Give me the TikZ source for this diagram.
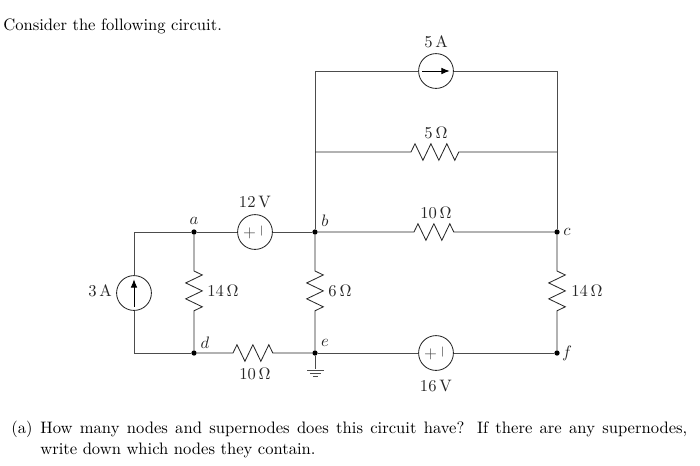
\documentclass[tikz,border=0pt]{standalone}
\usetikzlibrary{arrows.meta,decorations.pathmorphing}
\usepackage{amsmath,amssymb}
\usepackage{xcolor}

\begin{document}
\begin{tikzpicture}[x=0.603pt,y=-0.603pt,
	wire/.style={draw=black!70,line width=0.5pt},
	res/.style={draw=black!85,line width=0.5pt,decorate,decoration={zigzag,segment length=9.6pt,amplitude=5pt,pre length=#1*0.603pt,post length=#1*0.603pt}},
	junc/.style={circle,fill=black,inner sep=0pt,minimum size=3.2pt},
	src/.style={circle,draw=black!85,line width=0.5pt,inner sep=0pt,minimum size=21pt},
	cur/.style={-{Latex[length=5pt,width=4pt]},line width=0.5pt,shorten >=2.5pt,shorten <=2.5pt},
	val/.style={inner sep=0pt,text=black!85}]
	\useasboundingbox (0,0) rectangle (700,465);
	\node [junc] (a) at (194,232) {};
	\node [junc] (b) at (315,232) {};
	\node [junc] (c) at (557,232) {};
	\node [junc] (d) at (194,353) {};
	\node [junc] (e) at (315,353) {};
	\node [junc] (f) at (557,353) {};
	\coordinate (tl) at (134,232);
	\coordinate (bl) at (134,353);
	\coordinate (bt) at (315,71);
	\coordinate (ct) at (557,71);
	\coordinate (bm) at (315,152);
	\coordinate (cm) at (557,152);
	\coordinate (g1) at (315,369);
	\node [src] (src3) at (134,293) {};
	\node [src] (src5) at (436,71) {};
	\node [src,text=black!70] (v12) at (255,232) {$+$\rotatebox{90}{$-$}};
	\node [src,text=black!70] (v16) at (436,353) {$+$\rotatebox{90}{$-$}};
	\draw[wire] (src3) -- (tl) -- (a) -- (v12) -- (b);
	\draw[wire] (src3) -- (bl) -- (d);
	\draw[wire] (e) -- (v16) -- (f);
	\draw[wire] (bm) -- (bt) -- (src5) -- (ct) -- (cm);
	\draw[wire] (b) -- (bm);
	\draw[wire] (cm) -- (c);
	\draw[res=36] (a) -- (d);
	\draw[res=36] (b) -- (e);
	\draw[res=36] (c) -- (f);
	\draw[res=36] (d) -- (e);
	\draw[res=96] (b) -- (c);
	\draw[res=96] (bm) -- (cm);
	\draw[wire] (e) -- (g1);
	\draw[wire] (307,370) -- (324,370);
	\draw[wire] (310,373) -- (321,373);
	\draw[wire] (313,376.5) -- (318,376.5);
	\draw[cur] (src3.south) -- (src3.north);
	\draw[cur] (src5.west) -- (src5.east);
	\node [val] (la) at (194,221) {$a$};
	\node [val] (lb) at (325,221) {$b$};
	\node [val] (lc) at (567,232) {$c$};
	\node [val] (ld) at (205,343) {$d$};
	\node [val] (le) at (325,343) {$e$};
	\node [val] (lf) at (567,353) {$f$};
	\node [val] (t12) at (255,202) {$12\,\mathrm{V}$};
	\node [val] (t16) at (436,386) {$16\,\mathrm{V}$};
	\node [val] (t3) at (100,291) {$3\,\mathrm{A}$};
	\node [val] (t5) at (436,42) {$5\,\mathrm{A}$};
	\node [val] (r5) at (436,133) {$5\,\Omega$};
	\node [val] (r10a) at (436,213) {$10\,\Omega$};
	\node [val] (r10b) at (255,374) {$10\,\Omega$};
	\node [val] (r14a) at (223,291) {$14\,\Omega$};
	\node [val] (r6) at (340,291) {$6\,\Omega$};
	\node [val] (r14b) at (587,291) {$14\,\Omega$};
	\node [anchor=base west,inner sep=0pt] (intro) at (3,30) {Consider the following circuit.};
	\node [anchor=base west,inner sep=0pt] (qa) at (11,433) {(a)};
	\node [anchor=north west,inner sep=0pt,text width=647*0.603pt,align=justify] (qtext) at (40,421) {\baselineskip=12.8pt How many nodes and supernodes does this circuit have? If there are any supernodes,\linebreak write down which nodes they contain.\par};
\end{tikzpicture}
\end{document}
